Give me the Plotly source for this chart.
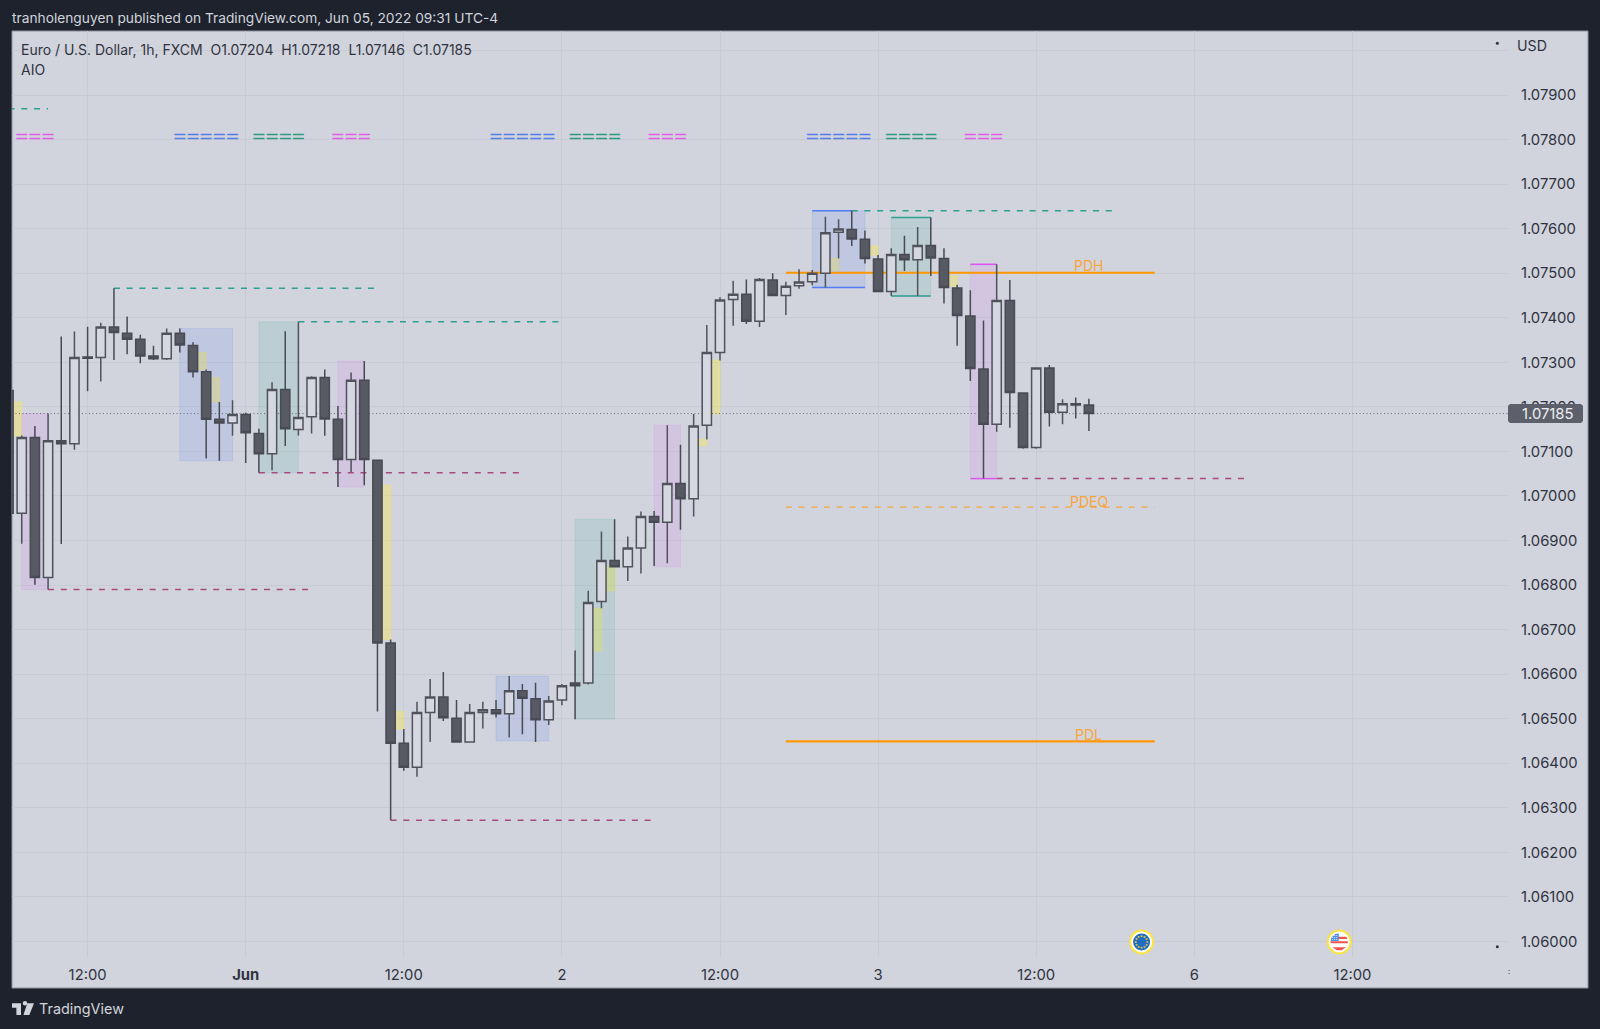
import math

import plotly.graph_objects as go

W, H = 1600, 1029
# pane geometry in page pixels
PANE_L, PANE_R, PANE_T, PANE_B = 12, 1588, 31, 988
PLOT_R, PLOT_B = 1508, 957

# bars are numbered from Jun 1 00:00
bar_x = list(range(-18, 65))
opens = [
    1.07237, 1.06961, 1.07131, 1.06817, 1.07124, 1.07117, 1.07312, 1.07311, 1.07379, 1.07365,
    1.07352, 1.07314, 1.07308, 1.07365, 1.07338, 1.07279, 1.07172, 1.07164, 1.07183, 1.07140,
    1.07095, 1.07239, 1.07149, 1.07178, 1.07266, 1.07172, 1.07082, 1.07260, 1.07080, 1.06670,
    1.06445, 1.06391, 1.06514, 1.06549, 1.06501, 1.06448, 1.06514, 1.06520, 1.06511, 1.06563,
    1.06545, 1.06498, 1.06542, 1.06580, 1.06580, 1.06763, 1.06855, 1.06841, 1.06883, 1.06954,
    1.06941, 1.07028, 1.06994, 1.07159, 1.07322, 1.07441, 1.07453, 1.07392, 1.07485, 1.07450,
    1.07472, 1.07481, 1.07500, 1.07592, 1.07598, 1.07576, 1.07532, 1.07459, 1.07542, 1.07530,
    1.07562, 1.07533, 1.07467, 1.07404, 1.07285, 1.07161, 1.07439, 1.07231, 1.07109, 1.07287,
    1.07188, 1.07207, 1.07204,
]
highs = [
    1.07237, 1.07136, 1.07157, 1.07185, 1.07358, 1.07369, 1.07380, 1.07389, 1.07466, 1.07403,
    1.07362, 1.07337, 1.07376, 1.07376, 1.07345, 1.07284, 1.07211, 1.07215, 1.07187, 1.07151,
    1.07255, 1.07370, 1.07391, 1.07269, 1.07284, 1.07202, 1.07277, 1.07303, 1.07080, 1.06678,
    1.06477, 1.06538, 1.06589, 1.06605, 1.06542, 1.06533, 1.06538, 1.06542, 1.06596, 1.06578,
    1.06581, 1.06551, 1.06578, 1.06653, 1.06787, 1.06920, 1.06948, 1.06909, 1.06965, 1.06966,
    1.07159, 1.07115, 1.07184, 1.07384, 1.07446, 1.07483, 1.07486, 1.07489, 1.07500, 1.07481,
    1.07509, 1.07507, 1.07627, 1.07621, 1.07640, 1.07596, 1.07541, 1.07556, 1.07584, 1.07604,
    1.07625, 1.07556, 1.07474, 1.07462, 1.07394, 1.07520, 1.07485, 1.07231, 1.07289, 1.07294,
    1.07217, 1.07221, 1.07218,
]
lows = [
    1.06961, 1.06893, 1.06801, 1.06790, 1.06892, 1.07104, 1.07235, 1.07257, 1.07305, 1.07318,
    1.07298, 1.07305, 1.07305, 1.07322, 1.07266, 1.07084, 1.07079, 1.07135, 1.07074, 1.07052,
    1.07058, 1.07112, 1.07136, 1.07140, 1.07135, 1.07020, 1.07054, 1.07024, 1.06516, 1.06272,
    1.06383, 1.06370, 1.06448, 1.06495, 1.06448, 1.06448, 1.06478, 1.06503, 1.06458, 1.06465,
    1.06448, 1.06486, 1.06530, 1.06499, 1.06577, 1.06748, 1.06841, 1.06809, 1.06826, 1.06843,
    1.06849, 1.06924, 1.06954, 1.07127, 1.07304, 1.07382, 1.07386, 1.07379, 1.07449, 1.07406,
    1.07465, 1.07473, 1.07468, 1.07533, 1.07561, 1.07522, 1.07459, 1.07449, 1.07505, 1.07449,
    1.07494, 1.07432, 1.07337, 1.07258, 1.07039, 1.07144, 1.07153, 1.07106, 1.07106, 1.07156,
    1.07161, 1.07174, 1.07146,
]
closes = [
    1.06961, 1.07131, 1.06817, 1.07124, 1.07117, 1.07311, 1.07309, 1.07379, 1.07367, 1.07352,
    1.07314, 1.07308, 1.07365, 1.07339, 1.07279, 1.07172, 1.07164, 1.07183, 1.07142, 1.07095,
    1.07239, 1.07151, 1.07176, 1.07266, 1.07173, 1.07082, 1.07260, 1.07082, 1.06670, 1.06445,
    1.06391, 1.06514, 1.06549, 1.06502, 1.06448, 1.06514, 1.06520, 1.06511, 1.06563, 1.06546,
    1.06498, 1.06540, 1.06574, 1.06574, 1.06761, 1.06855, 1.06841, 1.06883, 1.06954, 1.06941,
    1.07028, 1.06994, 1.07157, 1.07322, 1.07440, 1.07453, 1.07392, 1.07486, 1.07450, 1.07471,
    1.07480, 1.07500, 1.07591, 1.07599, 1.07577, 1.07533, 1.07459, 1.07542, 1.07530, 1.07562,
    1.07534, 1.07468, 1.07405, 1.07286, 1.07161, 1.07439, 1.07232, 1.07109, 1.07287, 1.07188,
    1.07207, 1.07204, 1.07185,
]
last_close = 1.07185

time_ticks = [-12, 0, 12, 24, 36, 48, 60, 72, 84]
time_labels = ["12:00", "<b>Jun</b>", "12:00", "2", "12:00", "3", "12:00", "6", "12:00"]
price_ticks = [1.06 + 0.001 * n for n in range(21)]
price_labels = [f"{p:.5f}" for p in price_ticks[:-1]] + [""]

# session boxes: first bar, last bar, top, bottom
blue_boxes = [(-5, -1, 1.07376, 1.07079), (19, 23, 1.06596, 1.06450), (43, 47, 1.07640, 1.07468)]
green_boxes = [(1, 4, 1.07391, 1.07052), (25, 28, 1.06948, 1.06499), (49, 52, 1.07625, 1.07449)]
purple_boxes = [(-17, -15, 1.07185, 1.06790), (7, 9, 1.07303, 1.07020), (31, 33, 1.07159, 1.06841), (55, 57, 1.07520, 1.07039)]
# imbalance blocks
yellow_boxes = [
    (-18, -17, 1.07211, 1.07135), (-4, -3, 1.07322, 1.07284), (-3, -2, 1.07266, 1.07211),
    (10, 11, 1.07024, 1.06678), (11, 12, 1.06516, 1.06477), (26, 27, 1.06748, 1.06652),
    (27, 28, 1.06841, 1.06787), (34, 35, 1.07127, 1.07113), (35, 36, 1.07305, 1.07184),
    (44, 45, 1.07533, 1.07507), (47, 48, 1.07561, 1.07541), (53, 54, 1.07494, 1.07471),
]
# swing levels: start, end, price
teal_levels = [(-18, -15, 1.07869), (-10, 10, 1.07466), (4, 24, 1.07391), (46, 66, 1.07640)]
maroon_levels = [(-15, 5, 1.06790), (1, 21, 1.07052), (11, 31, 1.06272), (57, 76, 1.07039)]
pd_start, pd_end = 41, 69
pdh, pdeq, pdl = 1.07501, 1.06975, 1.06449
# outlined edges of the latest session boxes
blue_edges = [(43, 46, 1.07640), (43, 47, 1.07468)]
green_edges = [(49, 52, 1.07625), (49, 52, 1.07449)]
purple_edges = [(55, 57, 1.07520), (55, 57, 1.07039)]

session_y = 1.07805
session_marks = {
    "#e25be8": [-17, -16, -15, 7, 8, 9, 31, 32, 33, 55, 56, 57],
    "#557de8": [-5, -4, -3, -2, -1, 19, 20, 21, 22, 23, 43, 44, 45, 46, 47],
    "#2d9b82": [1, 2, 3, 4, 25, 26, 27, 28, 49, 50, 51, 52],
}
eu_x, us_x, flag_y = 68, 83, 1.05999
dots_x, dots_y = [95, 95], [1.08016, 1.05988]

bar_px = 158.1 / 12
bar0_px = 245.7
x_range = [(PANE_L - bar0_px) / bar_px, (PLOT_R - bar0_px) / bar_px]
px_per_price = 44550
y_range = [1.06 - (PLOT_B - 941.5) / px_per_price, 1.079 + (95 - PANE_T) / px_per_price]

BG = "#d1d4dd"
DARK = "#1e222d"
TEXT = "#30333f"
GRID = "#c8cbd4"
ORANGE = "#ff9800"
AXIS_SIZE = 14.8
DASH = "6px,6.7px"


def px(x):
    return x / W


def py(y):
    return 1 - y / H


shapes = []
annotations = []


def add_box(box, fill):
    x0, x1, top, bottom = box
    shapes.append(dict(type="rect", layer="between", xref="x", yref="y", x0=x0, x1=x1, y0=bottom, y1=top,
                       fillcolor=fill, line=dict(width=1, color=fill)))


def add_level(level, color, width=1.5, dash="solid"):
    x0, x1, price = level
    shapes.append(dict(type="line", layer="between", xref="x", yref="y", x0=x0, x1=x1, y0=price, y1=price,
                       line=dict(color=color, width=width, dash=dash)))


def add_text(x, y, text, size=13.75, color=TEXT, anchor="left"):
    annotations.append(dict(xref="paper", yref="paper", x=px(x), y=py(y), text=text, showarrow=False,
                            xanchor=anchor, yanchor="middle", font=dict(family="Inter", size=size, color=color)))


def page_shape(path, fill):
    # path given in page pixels, y down; plotly wants an offset from the top left corner, y up
    cmds = []
    for seg in path.replace("Z", "").split("L"):
        cmd = "M" if seg[0] == "M" else "L"
        xs, ys = seg.lstrip("M").split(",")
        cmds.append(f"{cmd}{xs},{-float(ys)}")
    shapes.append(dict(type="path", layer="above", xref="paper", yref="paper", xsizemode="pixel", ysizemode="pixel",
                       xanchor=0, yanchor=1, path="".join(cmds) + "Z", fillcolor=fill, line=dict(width=0)))


# pane background sits under the grid
shapes.append(dict(type="rect", layer="below", xref="paper", yref="paper",
                   x0=px(PANE_L), x1=px(PANE_R), y0=py(PANE_B), y1=py(PANE_T),
                   fillcolor=BG, line=dict(color="#8d909a", width=1)))

for b in yellow_boxes:
    add_box(b, "rgba(255,235,59,0.35)")
for b in blue_boxes:
    add_box(b, "rgba(41,98,255,0.10)")
for b in green_boxes:
    add_box(b, "rgba(8,153,129,0.10)")
for b in purple_boxes:
    add_box(b, "rgba(224,64,251,0.10)")

for l in teal_levels:
    add_level(l, "#2e9f92", dash=DASH)
for l in maroon_levels:
    add_level(l, "#a84a80", dash=DASH)
for l in blue_edges:
    add_level(l, "#4f7df5")
for l in green_edges:
    add_level(l, "#2e9f92")
for l in purple_edges:
    add_level(l, "#de55f2")
add_level((pd_start, pd_end, pdh), ORANGE, width=2.2)
add_level((pd_start, pd_end, pdl), ORANGE, width=2.2)
add_level((pd_start, pd_end, pdeq), "#f5a73c", width=1.4, dash=DASH)
add_level((x_range[0], x_range[1], last_close), "#6a6d78", width=1, dash="1px,2.5px")


# calendar flags, drawn in pixels around their bar
def flag_circle(x, r, fill, line=None):
    shapes.append(dict(type="circle", layer="above", xref="x", yref="y", xsizemode="pixel", ysizemode="pixel",
                       xanchor=x, yanchor=flag_y, x0=-r, x1=r, y0=-r, y1=r, fillcolor=fill,
                       line=dict(width=0) if line is None else line))


def flag_path(x, path, fill):
    shapes.append(dict(type="path", layer="above", xref="x", yref="y", xsizemode="pixel", ysizemode="pixel",
                       xanchor=x, yanchor=flag_y, path=path, fillcolor=fill, line=dict(width=0)))


flag_circle(eu_x, 11.5, "#ffffff", dict(color="#fbe341", width=2))
flag_circle(eu_x, 8.5, "#1f6cc0")
for n in range(12):
    a = n * math.pi / 6
    sx, sy = 5.8 * math.cos(a), 5.8 * math.sin(a)
    flag_path(eu_x, f"M{sx - 0.9},{sy - 0.9}L{sx + 0.9},{sy - 0.9}L{sx + 0.9},{sy + 0.9}L{sx - 0.9},{sy + 0.9}Z", "#d8c24a")

flag_circle(us_x, 11.5, "#ffffff", dict(color="#fbe341", width=2))
R = 8.7
for y0, y1 in [(5.2, 3.0), (0.8, -1.4), (-5.4, -8.4)]:
    x0 = math.sqrt(max(R * R - y0 * y0, 0))
    x1 = math.sqrt(max(R * R - y1 * y1, 0))
    flag_path(us_x, f"M{-x0},{y0}L{x0},{y0}L{x1},{y1}L{-x1},{y1}Z", "#ef5350")
flag_path(us_x, "M-8.6,1L-0.5,1L-0.5,8.5L-4,7.9L-7,5.2L-8.6,2Z", "#4a90e2")
for sx in (-6.5, -4.5, -2.5):
    for sy in (2.5, 4.5, 6.5):
        flag_path(us_x, f"M{sx - 0.5},{sy - 0.5}L{sx + 0.5},{sy - 0.5}L{sx + 0.5},{sy + 0.5}L{sx - 0.5},{sy + 0.5}Z", "#dfe9f7")

# TradingView logo in the footer
page_shape("M12,1003.3L21,1003.3L21,1015L16.4,1015L16.4,1007.7L12,1007.7Z", "#d1d4dc")
page_shape("M27.3,1003.3L34,1003.3L29.3,1015L23.4,1015Z", "#d1d4dc")
shapes.append(dict(type="circle", layer="above", xref="paper", yref="paper", xsizemode="pixel", ysizemode="pixel",
                   xanchor=0, yanchor=1, x0=22.7, x1=27.3, y0=-1005.6, y1=-1001, fillcolor="#d1d4dc", line=dict(width=0)))

# last price tag on the scale, small rounded corners
page_shape("M1510,404L1581,404L1583,406L1583,421L1581,423L1510,423L1508,421L1508,406Z", "#5d606b")

add_text(10, 18, "tranholenguyen published on TradingView.com, Jun 05, 2022 09:31 UTC-4", color="#d1d4dc")
add_text(18.5, 49, "Euro / U.S. Dollar, 1h, FXCM&nbsp;&nbsp;O1.07204&nbsp;&nbsp;H1.07218&nbsp;&nbsp;L1.07146&nbsp;&nbsp;C1.07185", size=14)
add_text(18.5, 69, "AIO", size=14)
add_text(1515, 46, "USD", size=14.2)
add_text(37, 1009, "TradingView", size=14.4, color="#d1d4dc")
add_text(1506, 971, ":", size=8)
add_text(1548, 413.7, "1.07185", size=AXIS_SIZE, color="#eceef2", anchor="center")

for name, price in [("PDH", pdh), ("PDEQ", pdeq), ("PDL", pdl)]:
    shift = 6 if name == "PDEQ" else 7
    annotations.append(dict(xref="x", yref="y", x=64, y=price, yshift=shift, text=name, showarrow=False,
                            font=dict(family="Inter", size=14, color="#f7a63a")))

fig = go.Figure()
fig.add_trace(go.Candlestick(
    x=bar_x, open=opens, high=highs, low=lows, close=closes,
    increasing=dict(fillcolor="#d5d8e0", line=dict(color="#50525c", width=1.5)),
    decreasing=dict(fillcolor="#575963", line=dict(color="#484a54", width=1.5)),
    whiskerwidth=0, showlegend=False,
))
for color, marks in session_marks.items():
    fig.add_trace(go.Scatter(
        x=marks, y=[session_y] * len(marks), mode="text", text=["="] * len(marks),
        textposition="middle center", showlegend=False,
        textfont=dict(family="DejaVu Sans", size=17.5, color=color),
    ))
fig.add_trace(go.Scatter(x=dots_x, y=dots_y, mode="markers", showlegend=False,
                         marker=dict(size=3, color="#30333f")))

fig.update_layout(
    width=W, height=H, margin=dict(l=0, r=0, t=0, b=0), autosize=False,
    paper_bgcolor=DARK, plot_bgcolor="rgba(0,0,0,0)",
    boxgap=0.3, boxgroupgap=0, showlegend=False,
    shapes=shapes, annotations=annotations,
    font=dict(family="Inter", size=AXIS_SIZE, color=TEXT),
    xaxis=dict(
        domain=[px(PANE_L), px(PLOT_R)], range=x_range, rangeslider=dict(visible=False),
        tickmode="array", tickvals=time_ticks, ticktext=time_labels,
        showgrid=True, gridcolor=GRID, gridwidth=1, zeroline=False, showline=False,
        ticks="outside", ticklen=4, tickcolor="rgba(0,0,0,0)", anchor="y",
    ),
    yaxis=dict(
        domain=[py(PLOT_B), py(PANE_T)], range=y_range, side="right",
        tickmode="array", tickvals=price_ticks, ticktext=price_labels,
        showgrid=True, gridcolor=GRID, gridwidth=1, zeroline=False, showline=False,
        ticks="outside", ticklen=9, tickcolor="rgba(0,0,0,0)", anchor="x",
    ),
)

fig.write_html("out.html", config={"displayModeBar": False},
               post_script="document.body.style.margin='0';document.body.style.overflow='hidden';")
